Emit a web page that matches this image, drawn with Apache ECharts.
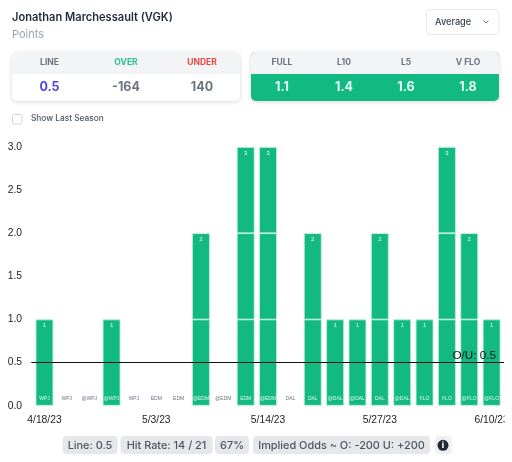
<!DOCTYPE html>
<html><head><meta charset="utf-8">
<style>html,body{margin:0;padding:0;background:#fff}#c{width:512px;height:462px}</style>
<script src="https://cdn.jsdelivr.net/npm/echarts@6/dist/echarts.min.js"></script>
</head><body><div id="c"></div>
<script>
const opponents = ['WPJ','WPJ','@WPJ','@WPJ','WPJ','EDM','EDM','@EDM','@EDM','EDM','@EDM','DAL','DAL','@DAL','@DAL','DAL','@DAL','FLO','FLO','@FLO','@FLO'];
const points = [1,0,0,1,0,0,0,2,0,3,3,0,2,1,1,2,1,1,3,2,1];
const dates = ['4/18/23','','','','','5/3/23','','','','','5/14/23','','','','','5/27/23','','','','','6/10/23'];
const yTicks = [0,0.5,1,1.5,2,2.5,3];
const lineValue = 0.5;
const oddsHeaders = ['LINE','OVER','UNDER'];
const oddsValues = ['0.5','-164','140'];
const avgHeaders = ['FULL','L10','L5','V FLO'];
const avgValues = ['1.1','1.4','1.6','1.8'];
const pills = ['Line: 0.5','Hit Rate: 14 / 21','67%','Implied Odds ~ O: -200 U: +200'];

const GREEN='#12b981', UI='Inter, "Noto Sans", sans-serif', AX='"Liberation Sans", Arial, sans-serif';
function seg(level){return points.map(v=>v>=level?1:'-');}
function barSeries(level){
  return {type:'bar',stack:'p',xAxisIndex:0,yAxisIndex:0,barWidth:17.7,data:seg(level),z:3,
    itemStyle:{color:GREEN,borderColor:'#b5eed8',borderWidth:0.8},
    label:{show:true,position:'insideTop',distance:3,color:'#e8fbf3',fontFamily:AX,fontSize:6,
      formatter:p=>points[p.dataIndex]===level?String(level):''}};
}
function t(text,x,y,o){return {type:'text',x,y,z:20,silent:true,style:Object.assign({text,fontFamily:UI,textVerticalAlign:'middle',verticalAlign:'middle'},o)};}
function r(x,y,w,h,fill,o){return {type:'rect',z:10,silent:true,shape:{x,y,width:w,height:h,r:(o&&o.r)||0},style:Object.assign({fill},o&&o.style)};}

const g=[];
g.push(t('Jonathan Marchessault (VGK)',12,18,{fontSize:11.1,fontWeight:600,fill:'#1f2937'}));
g.push(t('Points',12,34.5,{fontSize:11,fontWeight:400,fill:'#9ca3af'}));
g.push(r(426.5,9.5,72.5,25,'#fff',{r:4,style:{stroke:'#e5e7eb',lineWidth:1}}));
g.push(t('Average',435,22,{fontSize:9.2,fontWeight:500,fill:'#374151'}));
g.push({type:'polyline',z:20,silent:true,shape:{points:[[483.5,20.5],[486,23],[488.5,20.5]]},style:{stroke:'#6b7280',lineWidth:1,fill:'none'}});
const sh={shadowBlur:4,shadowColor:'rgba(0,0,0,0.16)',shadowOffsetY:1};
g.push(r(12,52,228,49,'#fff',{r:5,style:sh}));
g.push(r(12,52,228,22,'#f3f4f6',{r:[5,5,0,0]}));
const lx=[49.5,126,202], hc=['#6b7280','#2cc28d','#ef4444'], vc=['#4f46e5','#6b7280','#6b7280'];
oddsHeaders.forEach((h,i)=>g.push(t(h,lx[i],62,{fontSize:8.5,fontWeight:700,fill:hc[i],align:'center',textAlign:'center'})));
oddsValues.forEach((h,i)=>g.push(t(h,lx[i],87.5,{fontSize:12.5,fontWeight:700,fill:vc[i],align:'center',textAlign:'center'})));
g.push(r(251,52,248,49,GREEN,{r:5,style:sh}));
g.push(r(251,52,248,22,'#f3f4f6',{r:[5,5,0,0]}));
const rx=[282,344,406,468];
avgHeaders.forEach((h,i)=>g.push(t(h,rx[i],62,{fontSize:8.5,fontWeight:700,fill:'#6b7280',align:'center',textAlign:'center'})));
avgValues.forEach((h,i)=>g.push(t(h,rx[i],87.5,{fontSize:12.5,fontWeight:700,fill:'#eafff6',align:'center',textAlign:'center'})));
g.push(r(12.5,114.5,9.5,9.5,'#fff',{r:2,style:{stroke:'#d1d5db',lineWidth:1}}));
g.push(t('Show Last Season',31,119,{fontSize:8.3,fontWeight:500,fill:'#4b5563'}));
const px=[[62.5,55],[120.5,92],[215,34],[253,177]];
pills.forEach((p,i)=>{
  g.push(r(px[i][0],436,px[i][1],18,'#e5e7eb',{r:4}));
  g.push(t(p,px[i][0]+px[i][1]/2,445.3,{fontSize:10.9,fontWeight:500,fill:'#4b5563',align:'center',textAlign:'center'}));
});
g.push(r(435,436,17,18,'#eef0f2',{r:4}));
g.push({type:'circle',z:20,silent:true,shape:{cx:443,cy:445.3,r:5.5},style:{fill:'#1f2937'}});
g.push(t('i',443,445.5,{fontSize:8.5,fontWeight:800,fill:'#fff',align:'center',textAlign:'center'}));
g.push(r(504.5,410,8,20,'#fff',{}));

const opt={animation:false,backgroundColor:'#fff',
  graphic:{elements:g},
  grid:[{left:33.3,right:9.2,top:147,bottom:56.3},{left:31.3,right:8,top:147,bottom:56.3}],
  xAxis:[
    {type:'category',gridIndex:0,data:dates,axisLine:{show:false},axisTick:{show:false},splitLine:{show:false},
      axisLabel:{interval:0,margin:9.5,fontFamily:AX,fontSize:10.3,color:'#222',hideOverlap:false}},
    {type:'category',gridIndex:0,position:'bottom',data:opponents,z:6,axisLine:{show:false},axisTick:{show:false},
      axisLabel:{interval:0,inside:true,margin:5,fontFamily:AX,
        formatter:(v,i)=>points[i]>0?`{on|${v}}`:`{off|${v}}`,
        rich:{on:{color:'#d9f7ea',fontSize:5,fontFamily:AX},off:{color:'#6b7280',fontSize:5,fontFamily:AX}}}},
    {type:'category',gridIndex:1,show:false,data:opponents}
  ],
  yAxis:[
    {type:'value',gridIndex:0,min:0,max:3,interval:0.5,splitLine:{show:false},axisLine:{show:false},axisTick:{show:false},
      axisLabel:{margin:11.3,fontFamily:AX,fontSize:10.3,color:'#222',formatter:v=>v.toFixed(1)}},
    {type:'value',gridIndex:1,min:0,max:3,show:false}
  ],
  series:[barSeries(1),barSeries(2),barSeries(3),
    {type:'line',xAxisIndex:2,yAxisIndex:1,data:[],z:8,showSymbol:false,
      markLine:{silent:true,symbol:'none',z:8,lineStyle:{color:'#111',width:1.2,type:'solid'},
        label:{show:true,position:'insideEndTop',distance:[8,1],formatter:'O/U: '+lineValue,color:'#111',fontFamily:AX,fontSize:11.7},
        data:[{yAxis:lineValue}]}}
  ]};
echarts.init(document.getElementById('c')).setOption(opt);
</script></body></html>
